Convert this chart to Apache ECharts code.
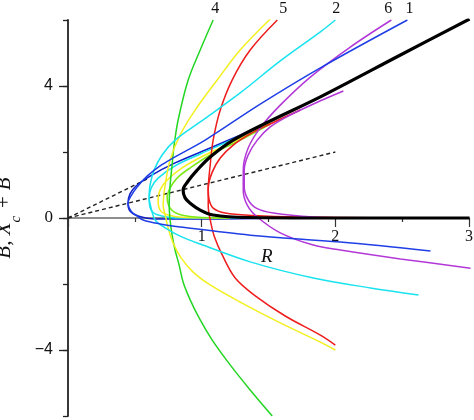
<!DOCTYPE html>
<html><head><meta charset="utf-8">
<script src="https://cdn.jsdelivr.net/npm/echarts@6/dist/echarts.min.js"></script>
<style>html,body{margin:0;padding:0;background:#fff}#c{width:474px;height:420px}</style>
</head><body><div id="c"></div>
<script>
// ---- data, each list starts at the upper end of the curve ----
const xTicks = [1, 2, 3];
const yTicks = [-4, 0, 4];
const curveNames = ['1', '2', '3', '4', '5', '6'];

const black = [[3.004,6.03],[2.487,4.94],[1.888,3.67],[1.513,2.94],[1.236,2.36],[1.064,1.85],[0.966,1.45],[0.899,1.12],[0.861,0.85],[0.876,0.61],[0.914,0.45],[0.989,0.24],[1.086,0.09],[1.341,0.015],[1.963,0],[3.004,0]];

const blueOuter = [[2.539,6.0],[1.888,4.55],[1.438,3.45],[1.026,2.36],[0.801,1.85],[0.689,1.58],[0.592,1.27],[0.517,0.94],[0.472,0.67],[0.449,0.45],[0.472,0.21],[0.517,0.06],[0.562,-0.06],[0.689,-0.18],[0.839,-0.27],[1.363,-0.52],[2.037,-0.73],[2.712,-1.0]];
const blueInner = [[1.363,2.64],[1.064,2.12],[0.801,1.67],[0.614,1.27],[0.509,0.97],[0.464,0.73],[0.449,0.45],[0.464,0.21],[0.524,0.06],[0.652,-0.03],[0.914,-0.03],[1.438,-0.015]];

const cyanOuter = [[2.0,6.0],[1.888,5.64],[1.588,4.76],[1.288,3.79],[0.989,2.91],[0.801,2.36],[0.704,1.91],[0.644,1.45],[0.614,1.0],[0.607,0.64],[0.622,0.30],[0.652,-0.06],[0.727,-0.30],[0.839,-0.55],[0.989,-0.79],[1.363,-1.33],[1.835,-1.82],[2.262,-2.12],[2.622,-2.33]];
const cyanInner = [[1.513,2.95],[1.236,2.39],[0.989,1.94],[0.801,1.58],[0.674,1.21],[0.622,0.91],[0.607,0.58],[0.622,0.24],[0.674,0.09],[0.801,0.0],[1.288,0.0]];

const yellowOuter = [[1.513,6.03],[1.288,5.09],[1.116,4.18],[0.951,3.27],[0.839,2.52],[0.764,1.76],[0.727,1.0],[0.712,0.39],[0.727,0.09],[0.749,-0.30],[0.787,-0.76],[0.846,-1.21],[0.936,-1.64],[1.064,-2.03],[1.288,-2.55],[1.588,-3.18],[1.888,-3.76],[2.0,-4.0]];
const yellowInner = [[1.513,2.88],[1.236,2.30],[1.026,1.91],[0.854,1.52],[0.742,1.15],[0.689,0.85],[0.674,0.55],[0.689,0.24],[0.749,0.09],[0.876,0.015],[1.213,0.0]];

const greenOuter = [[1.086,6.0],[0.989,5.09],[0.899,4.18],[0.824,2.97],[0.794,2.21],[0.779,1.61],[0.764,1.0],[0.757,0.39],[0.764,-0.06],[0.779,-0.52],[0.801,-0.97],[0.831,-1.42],[0.861,-1.94],[0.914,-2.48],[0.989,-3.09],[1.079,-3.70],[1.213,-4.45],[1.363,-5.21],[1.528,-6.0]];
const greenInner = [[1.513,2.85],[1.288,2.36],[1.064,1.91],[0.914,1.52],[0.816,1.21],[0.764,0.91],[0.742,0.61],[0.764,0.30],[0.824,0.12],[0.951,0.03],[1.213,0.0]];

const redOuter = [[1.566,6.0],[1.363,5.09],[1.228,4.18],[1.139,3.27],[1.086,2.36],[1.064,1.61],[1.049,0.85],[1.049,0.39],[1.064,-0.06],[1.094,-0.55],[1.154,-1.12],[1.251,-1.82],[1.401,-2.36],[1.625,-2.97],[1.888,-3.55],[2.0,-3.85]];
const redInner = [[1.738,3.27],[1.513,2.85],[1.363,2.55],[1.236,2.21],[1.139,1.82],[1.079,1.39],[1.049,0.91],[1.056,0.55],[1.086,0.30],[1.176,0.15],[1.386,0.076],[1.738,0.03],[2.487,0.0]];

const magentaOuter = [[2.419,6.0],[2.112,5.18],[1.813,4.27],[1.588,3.42],[1.438,2.73],[1.348,2.12],[1.311,1.45],[1.311,0.85],[1.341,0.39],[1.416,0.03],[1.588,-0.45],[1.835,-0.82],[2.037,-0.97],[2.487,-1.24],[3.011,-1.52]];
const magentaInner = [[2.06,3.85],[1.888,3.55],[1.663,3.12],[1.513,2.76],[1.416,2.36],[1.348,1.91],[1.318,1.45],[1.318,0.94],[1.348,0.55],[1.408,0.30],[1.536,0.15],[1.835,0.03],[2.187,0.0],[3.0,0.0]];

const dashSteep = [[0,0],[0.6,1.2]];
const dashUnit = [[0,0],[2,2]];

// ---- chart ----
const SERIF = 'Liberation Serif, Times New Roman, serif';
const SANS = 'Liberation Sans, Arial, sans-serif';
const COL = {blue:'#1f3fe6', blueD:'#1020c8', cyan:'#19e3ef', yellow:'#f2f020', green:'#22d622', lime:'#7ee81a', red:'#ee1c1c', magenta:'#b238d8'};

function line(data, color, width, name, off) {
  const s = {type:'line', data:data, symbol:'none', smooth:0.35, silent:true,
    lineStyle:{color:color, width:width}, z:3};
  if (name) {
    s.markPoint = {symbol:'circle', symbolSize:0, silent:true,
      label:{show:true, position:'top', distance:3, offset:[off||0,0], formatter:name,
        color:'#111', fontFamily:SERIF, fontSize:16},
      data:[{coord:data[0]}]};
  }
  return s;
}
function dashed(data){
  return {type:'line', data:data, symbol:'none', silent:true,
    lineStyle:{color:'#222', width:1.4, type:[4,3]}, z:2};
}

const series = [
  dashed(dashSteep), dashed(dashUnit),
  line(blueInner, COL.blueD, 1.6),
  line(cyanInner, COL.cyan, 1.6),
  line(yellowInner, COL.yellow, 1.6),
  line(greenInner, COL.lime, 1.6),
  line(redInner, COL.red, 1.6),
  line(magentaInner, COL.magenta, 1.6),
  line(greenOuter, COL.green, 1.5, curveNames[3], 2),
  line(yellowOuter, COL.yellow, 1.5, curveNames[2], -4),
  line(redOuter, COL.red, 1.5, curveNames[4], 6),
  line(cyanOuter, COL.cyan, 1.5, curveNames[1], 1),
  line(magentaOuter, COL.magenta, 1.5, curveNames[5], -3),
  line(blueOuter, COL.blue, 1.5, curveNames[0], 2),
  Object.assign(line(black, '#000', 3.2), {z:4})
];

const GRID = {left:68, right:5, top:20, bottom:4};
const plotH = 420 - GRID.top - GRID.bottom;

const chart = echarts.init(document.getElementById('c'), null, {renderer:'canvas'});
chart.setOption({
  animation:false,
  backgroundColor:'#fff',
  grid:Object.assign({containLabel:false, outerBoundsMode:'none'}, GRID),
  xAxis:[{type:'value', min:0, max:3, interval:1, position:'bottom',
    offset:-plotH/2,
    axisLine:{onZero:false, lineStyle:{color:'#6a6a6a', width:1.6}},
    axisTick:{show:true, inside:false, length:9, lineStyle:{color:'#333', width:1.2}},
    minorTick:{show:true, splitNumber:2, length:4, lineStyle:{color:'#333', width:1.2}},
    axisLabel:{margin:11, fontFamily:SERIF, fontSize:16, color:'#111',
      formatter:v => xTicks.indexOf(v) >= 0 ? String(v) : ''},
    splitLine:{show:false}}],
  yAxis:[{type:'value', min:-6, max:6, interval:2, position:'left',
      axisLine:{onZero:false, lineStyle:{color:'#222', width:1.8}},
      axisTick:{show:true, length:5, lineStyle:{color:'#222', width:1.3}},
      axisLabel:{show:true, margin:15, color:'#111', fontSize:16, fontFamily:SANS,
        formatter:v => yTicks.indexOf(v) >= 0 ? (v===0 ? '{r|0}' : (v<0 ? '\u2212'+Math.abs(v) : String(v))) : '',
        rich:{r:{fontFamily:SERIF, fontSize:17, color:'#111'}}},
      splitLine:{show:false},
      name:'{i|B, X}{s|c}{i| + B}', nameLocation:'middle', nameGap:45, nameRotate:90,
      nameTextStyle:{rich:{
        i:{fontFamily:SERIF, fontStyle:'italic', fontSize:21, color:'#111', lineHeight:24, verticalAlign:'middle'},
        s:{fontFamily:SERIF, fontStyle:'italic', fontSize:15, color:'#111', lineHeight:24, verticalAlign:'bottom', padding:[0,1,-7,0]}}}},
    {type:'value', min:-6, max:6, position:'left', offset:0,
      axisLine:{show:false},
      axisTick:{show:true, length:9, customValues:yTicks, lineStyle:{color:'#222', width:1.3}},
      axisLabel:{show:false}, splitLine:{show:false}}],
  graphic:[{type:'text', left:261, top:247, silent:true,
    style:{text:'R', fontFamily:SERIF, fontStyle:'italic', fontSize:19, fill:'#111'}}],
  series:series
});
</script></body></html>
